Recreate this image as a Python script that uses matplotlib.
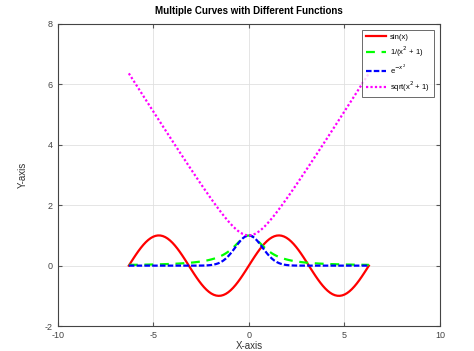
import matplotlib
matplotlib.use("Agg")
import matplotlib.pyplot as plt
import numpy as np

# curves named in the legend, sampled on [-2pi, 2pi]
x = np.linspace(-2 * np.pi, 2 * np.pi, 100)
curves = [
    ("sin(x)", np.sin(x), "#ff0000", "-"),
    ("1/(x$^2$ + 1)", 1 / (x ** 2 + 1), "#00ff00", (0, (4, 3))),
    ("e$^{-x^2}$", np.exp(-x ** 2), "#0000ff", (0, (2.5, 1))),
    ("sqrt(x$^2$ + 1)", np.sqrt(x ** 2 + 1), "#ff00ff", (0, (1, 1))),
]
xticks = [-10, -5, 0, 5, 10]
yticks = [-2, 0, 2, 4, 6, 8]

plt.rcParams["font.family"] = ["Liberation Sans", "DejaVu Sans"]
plt.rcParams["axes.unicode_minus"] = False
fig = plt.figure(figsize=(4.74, 3.51), dpi=100)
ax = fig.add_axes([0.122, 0.071, 0.806, 0.861])

for label, y, color, ls in curves:
    ax.plot(x, y, color=color, linestyle=ls, linewidth=1.6, label=label)

ax.set_xlim(-10, 10)
ax.set_ylim(-2, 8)
ax.set_xticks(xticks)
ax.set_yticks(yticks)
ax.grid(True, color="#e0e0e0", linewidth=0.6)
ax.tick_params(direction="in", labelsize=6.5, labelcolor="#444444", color="#555555",
               length=3, top=True, right=True)
for sp in ax.spines.values():
    sp.set_color("#444444")
    sp.set_linewidth(0.8)

ax.set_title("Multiple Curves with Different Functions", fontsize=7, fontweight="bold", pad=7)
ax.set_xlabel("X-axis", fontsize=7, color="#333333", labelpad=1)
ax.set_ylabel("Y-axis", fontsize=7, color="#333333", labelpad=12)

leg = ax.legend(loc="upper right", fontsize=5.5, frameon=True, fancybox=False,
                borderaxespad=0.8, handlelength=2.7, labelspacing=0.45,
                borderpad=0.5, handletextpad=0.5)
leg.get_frame().set_edgecolor("#444444")
leg.get_frame().set_linewidth(0.7)

fig.savefig("out.png", dpi=100)
